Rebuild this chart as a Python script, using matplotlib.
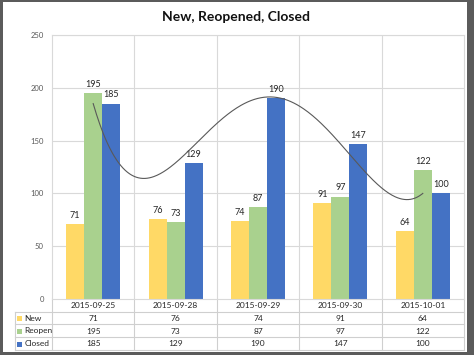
import numpy as np
import matplotlib
matplotlib.use('Agg')
import matplotlib.pyplot as plt
from matplotlib.patches import Rectangle
import matplotlib.transforms as mtransforms

categories = ['2015-09-25', '2015-09-28', '2015-09-29', '2015-09-30', '2015-10-01']
new = [71, 76, 74, 91, 64]
reopen = [195, 73, 87, 97, 122]
closed = [185, 129, 190, 147, 100]
series_names = ['New', 'Reopen', 'Closed']
yticks = [0, 50, 100, 150, 200, 250]
title = 'New, Reopened, Closed'

colors = ['#FFD966', '#A9D18E', '#4472C4']
FONT = ['Lato', 'DejaVu Sans']
plt.rcParams['font.family'] = FONT

W, H = 474, 355
fig = plt.figure(figsize=(W / 100, H / 100), dpi=100)
fig.patch.set_facecolor('#5b5b5b')

# overlay in pixel coords
over = fig.add_axes([0, 0, 1, 1])
over.set_xlim(0, W)
over.set_ylim(H, 0)
over.axis('off')
over.add_patch(Rectangle((3, 2), 464, 350, facecolor='white', edgecolor='none', zorder=0))

L, R, T, B = 52, 464, 35, 299
ax = fig.add_axes([L / W, 1 - B / H, (R - L) / W, (B - T) / H])
ax.set_facecolor('none')
x = np.arange(1, len(categories) + 1)
ax.set_xlim(0.5, len(categories) + 0.5)
ax.set_ylim(0, 250)
grid_c = '#d9d9d9'
for s in ax.spines.values():
    s.set_color(grid_c)
    s.set_linewidth(0.8)
ax.set_yticks(yticks)
ax.set_yticklabels([str(v) for v in yticks], fontsize=5.5, color='#595959')
ax.tick_params(axis='y', length=0, pad=6)
ax.set_xticks([])
for v in yticks[1:]:
    ax.axhline(v, color=grid_c, lw=0.8, zorder=0)
for b in np.arange(1.5, len(categories), 1.0):
    ax.axvline(b, color=grid_c, lw=0.8, zorder=0)

w = 0.218
data = [new, reopen, closed]
for i, (vals, c) in enumerate(zip(data, colors)):
    xs = x + (i - 1) * w
    ax.bar(xs, vals, width=w, color=c, zorder=2)
    for xi, v in zip(xs, vals):
        ax.text(xi, v + 4, str(v), ha='center', va='bottom', fontsize=6.5, color='#262626', zorder=3)

# polynomial (order 4) trendline of Closed
coef = np.polyfit(x, closed, 4)
xx = np.linspace(1, len(categories), 300)
ax.plot(xx, np.polyval(coef, xx), color='#595959', lw=0.8, zorder=4)

# title
over.text(W / 2 - 1, 17, title, ha='center', va='center', fontsize=10, fontweight='bold', color='#111111')

# data table
tr = mtransforms.blended_transform_factory(ax.transData, over.transData)
rows_y = [299, 312, 324, 337, 350]
tc = '#cfcfcf'
for yy in rows_y[1:]:
    over.plot([15, R], [yy, yy], color=tc, lw=0.8)
over.plot([15, 15], [rows_y[1], rows_y[-1]], color=tc, lw=0.8)
for b in np.arange(0.5, len(categories) + 1, 1.0):
    ax.plot([b, b], [rows_y[0], rows_y[-1]], transform=tr, color=tc, lw=0.8, clip_on=False)
txt_c = '#262626'
for xi, cat in zip(x, categories):
    ax.text(xi, (rows_y[0] + rows_y[1]) / 2 + 0.5, cat, transform=tr, ha='center', va='center',
            fontsize=6, color=txt_c, clip_on=False)
for r, (name, vals, c) in enumerate(zip(series_names, data, colors)):
    yc = (rows_y[r + 1] + rows_y[r + 2]) / 2 + 0.5
    over.add_patch(Rectangle((17.5, yc - 2.5), 5, 5, facecolor=c, edgecolor='none'))
    over.text(24.5, yc, name, ha='left', va='center', fontsize=6, color=txt_c)
    for xi, v in zip(x, vals):
        ax.text(xi, yc, str(v), transform=tr, ha='center', va='center', fontsize=6, color=txt_c, clip_on=False)

fig.savefig('out.png', dpi=100, facecolor=fig.get_facecolor())
